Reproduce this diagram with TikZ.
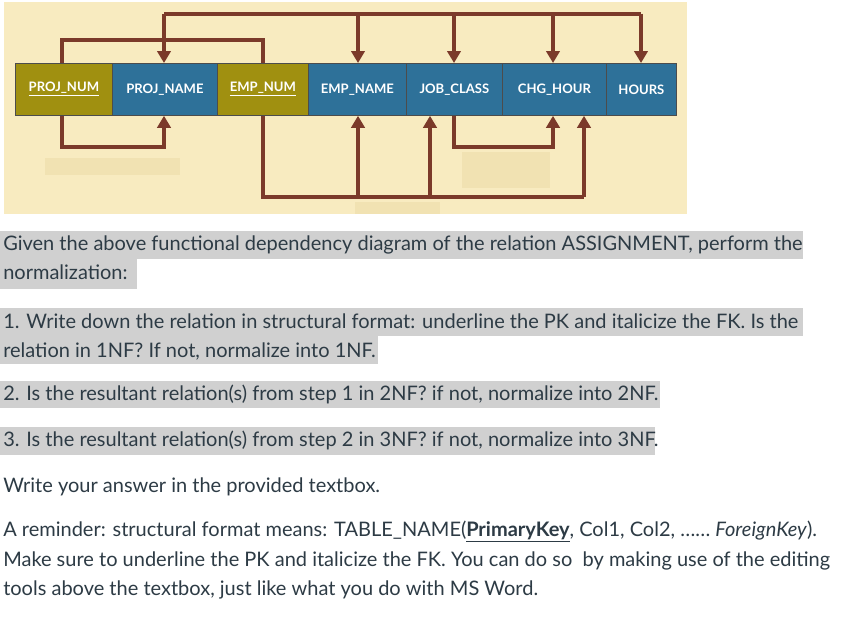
\documentclass[tikz,border=0pt]{standalone}
\usepackage{fontspec}
\setmainfont{Lato}
\newfontfamily\boxfont{Lato}
\usetikzlibrary{arrows.meta}
\definecolor{panel}{HTML}{F8EBC0}
\definecolor{blob}{HTML}{F1E2B2}
\definecolor{olive}{HTML}{A09010}
\definecolor{steel}{HTML}{2E7199}
\definecolor{brownline}{HTML}{7B3A2A}
\definecolor{hl}{HTML}{D0D0D0}
\definecolor{txt}{HTML}{2D3B45}
\tikzset{
  attr/.style={draw=black!70,line width=0.6pt,minimum height=52*0.75pt,inner sep=0pt,text=white,font=\boxfont\fontsize{9.8}{11}\selectfont\bfseries},
  dep/.style={draw=brownline,line width=3pt},
  deparrow/.style={dep,-{Triangle[length=9pt,width=10pt]}},
  para/.style={anchor=base west,inner sep=0pt,text=txt,font=\fontsize{15}{18}\selectfont},
}
\begin{document}
\begin{tikzpicture}[x=0.75pt,y=-0.75pt]
\useasboundingbox (0,0) rectangle (848,637);
\fill[white] (0,0) rectangle (848,637);
\fill[panel] (4,2) rectangle (687,214);
\fill[blob] (45,158) rectangle (180,175);
\fill[blob] (462,152) rectangle (550,188);
\fill[blob] (355,202) rectangle (440,214);
% boxes
\node[attr,fill=olive,minimum width=97*0.75pt,anchor=north west] (pn) at (15,63) {\underline{PROJ\_NUM}};
\node[attr,fill=steel,minimum width=105*0.75pt,anchor=north west] (pname) at (112,63) {PROJ\_NAME};
\node[attr,fill=olive,minimum width=91*0.75pt,anchor=north west] (en) at (217,63) {\underline{EMP\_NUM}};
\node[attr,fill=steel,minimum width=98*0.75pt,anchor=north west] (ename) at (308,63) {EMP\_NAME};
\node[attr,fill=steel,minimum width=96*0.75pt,anchor=north west] (jc) at (406,63) {JOB\_CLASS};
\node[attr,fill=steel,minimum width=104*0.75pt,anchor=north west] (ch) at (502,63) {CHG\_HOUR};
\node[attr,fill=steel,minimum width=70*0.75pt,anchor=north west] (hr) at (606,63) {HOURS};
% top dependencies
\draw[dep] (pn.north west)++(47,0) |- (263,40) -- (en.north west-|263,0);
\coordinate (t1) at (164,13.5);
\coordinate (t4) at (641,13.5);
\draw[dep] (t1) -- (t4);
\draw[deparrow] (t1) -- (pname.north -| t1);
\draw[deparrow] (358,13.5) -- (ename.north -| 358,0);
\draw[deparrow] (454,13.5) -- (jc.north -| 454,0);
\draw[deparrow] (553,13.5) -- (ch.north -| 553,0);
\draw[deparrow] (t4) -- (hr.north -| t4);
% bottom dependencies
\draw[deparrow] (pn.south -| 62,0) |- (164,147) -- (pname.south -| 164,0);
\draw[dep] (en.south -| 263,0) |- (584,197);
\draw[deparrow] (358,197) -- (ename.south -| 358,0);
\draw[deparrow] (430,197) -- (jc.south -| 430,0);
\draw[deparrow] (584,197) -- (ch.south -| 584,0);
\draw[deparrow] (jc.south -| 454,0) |- (553,147) -- (ch.south -| 553,0);
% highlights
\fill[hl] (0,231) rectangle (803,259);
\fill[hl] (0,259) rectangle (137,289);
\fill[hl] (0,308) rectangle (803,336);
\fill[hl] (0,336) rectangle (378,364);
\fill[hl] (0,381) rectangle (660,408);
\fill[hl] (0,427) rectangle (655,455);
% text
\node[para] (l1) at (3,250) {Given the above functional dependency diagram of the relation ASSIGNMENT, perform the};
\node[para] (l2) at (3,279) {normalization:};
\node[para] (l3) at (3,328) {1. Write down the relation in structural format: underline the PK and italicize the FK. Is the};
\node[para] (l4) at (3,357) {relation in 1NF? If not, normalize into 1NF.};
\node[para] (l5) at (3,400) {2. Is the resultant relation(s) from step 1 in 2NF? if not, normalize into 2NF.};
\node[para] (l6) at (3,446) {3. Is the resultant relation(s) from step 2 in 3NF? if not, normalize into 3NF.};
\node[para] (l7) at (3,492) {Write your answer in the provided textbox.};
\node[para] (l8) at (3,536) {A reminder: structural format means: TABLE\_NAME(\underline{\textbf{PrimaryKey}}, Col1, Col2, \dots\dots\ \textit{ForeignKey}).};
\node[para] (l9) at (3,566) {Make sure to underline the PK and italicize the FK. You can do so\ \ by making use of the editing};
\node[para] (l10) at (3,595) {tools above the textbox, just like what you do with MS Word.};
\end{tikzpicture}
\end{document}
